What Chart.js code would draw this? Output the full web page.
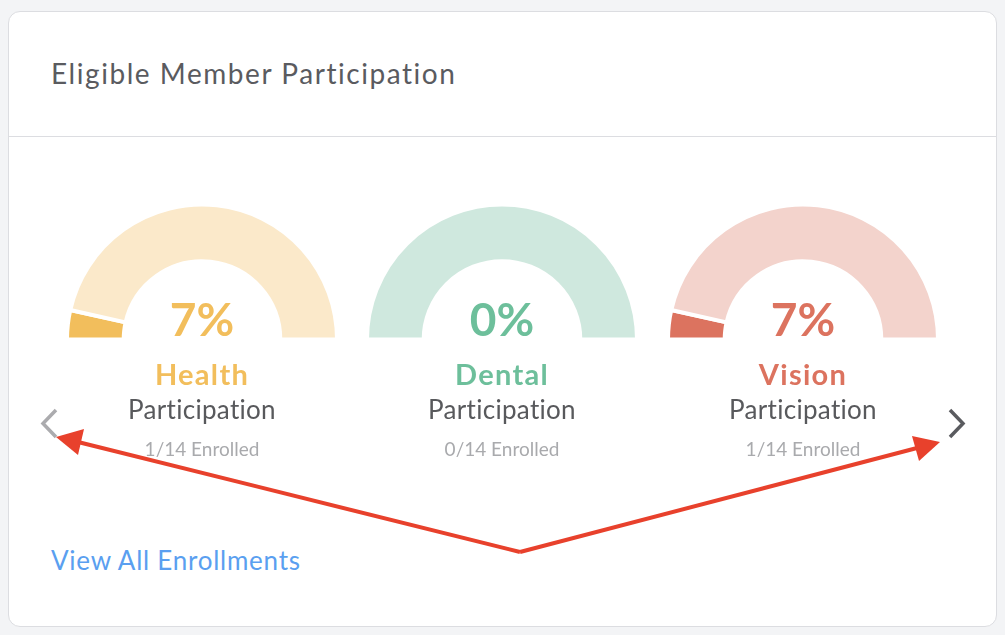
<!DOCTYPE html>
<html>
<head>
<meta charset="utf-8">
<script src="https://cdn.jsdelivr.net/npm/chart.js@4/dist/chart.umd.min.js"></script>
<style>
  html,body{margin:0;padding:0;}
  body{width:1005px;height:635px;background:#f3f4f6;position:relative;overflow:hidden;font-family:Lato,"Open Sans",sans-serif;}
  .card{position:absolute;left:8px;top:11px;width:987px;height:614px;background:#fff;border:1px solid #dcdde1;border-radius:12px;}
  .title{position:absolute;left:42px;top:44px;font-size:28px;color:#5a5b5f;white-space:nowrap;letter-spacing:1.55px;}
  .divider{position:absolute;left:0;right:0;top:124px;height:1px;background:#dcdde1;}
  .gauge{position:absolute;width:300px;height:300px;}
  .gauge canvas{position:absolute;left:13px;top:0;}
  .pct{position:absolute;left:0;width:300px;text-align:center;top:94px;font-size:46px;font-weight:700;line-height:46px;}
  .name{position:absolute;left:0;width:300px;text-align:center;top:157px;font-size:29px;font-weight:700;line-height:30px;letter-spacing:1.3px;}
  .part{position:absolute;left:0;width:300px;text-align:center;top:193px;font-size:26px;color:#58595c;line-height:28px;letter-spacing:0.3px;}
  .enr{position:absolute;left:0;width:300px;text-align:center;top:237px;font-size:19px;color:#a9aaad;line-height:20px;}
  .link{position:absolute;left:42px;top:532px;font-size:26px;color:#5a9ff0;white-space:nowrap;letter-spacing:0.75px;}
  svg{position:absolute;left:0;top:0;}
</style>
</head>
<body>
<div class="card">
  <div class="title">Eligible Member Participation</div>
  <div class="divider"></div>
  <div class="link">View All Enrollments</div>
</div>
<div id="gauges"></div>
<svg width="1005" height="635">
  <polyline points="56,410 43,423.5 56,437" fill="none" stroke="#ababae" stroke-width="3.5"/>
  <polyline points="950,410 963,423.5 950,437" fill="none" stroke="#5a5b5f" stroke-width="3.5"/>
  <line x1="520" y1="552" x2="78" y2="442" stroke="#e8412c" stroke-width="4"/>
  <line x1="520" y1="552" x2="917" y2="448" stroke="#e8412c" stroke-width="4"/>
  <polygon points="56,437 84,429 78,455" fill="#e8412c"/>
  <polygon points="940,442 912,436 919,461" fill="#e8412c"/>
</svg>
<script>
const categories = ['Health', 'Dental', 'Vision'];
const enrolled = [1, 0, 1];
const totals = [14, 14, 14];
const percents = [7, 0, 7];
const fillColors = ['#f2be5c', '#6dbf9b', '#dc735f'];
const trackColors = ['#fbe9ca', '#cfe8de', '#f3d3cc'];
const centersX = [202, 502, 803];

const host = document.getElementById('gauges');
categories.forEach((cat, i) => {
  const g = document.createElement('div');
  g.className = 'gauge';
  g.style.left = (centersX[i] - 150) + 'px';
  g.style.top = '202px';
  const cv = document.createElement('canvas');
  cv.width = 274; cv.height = 140;
  g.appendChild(cv);
  const pct = document.createElement('div');
  pct.className = 'pct'; pct.style.color = fillColors[i]; pct.textContent = percents[i] + '%';
  const nm = document.createElement('div');
  nm.className = 'name'; nm.style.color = fillColors[i]; nm.textContent = cat;
  const pt = document.createElement('div');
  pt.className = 'part'; pt.textContent = 'Participation';
  const en = document.createElement('div');
  en.className = 'enr'; en.textContent = enrolled[i] + '/' + totals[i] + ' Enrolled';
  g.appendChild(pct); g.appendChild(nm); g.appendChild(pt); g.appendChild(en);
  host.appendChild(g);
  new Chart(cv, {
    type: 'doughnut',
    data: {
      labels: ['Enrolled', 'Not enrolled'],
      datasets: [{
        data: [percents[i], 100 - percents[i]],
        backgroundColor: [fillColors[i], trackColors[i]],
        borderColor: '#ffffff',
        borderWidth: 4
      }]
    },
    options: {
      responsive: false,
      animation: false,
      rotation: -90,
      circumference: 180,
      cutout: '58%',
      layout: { padding: 0 },
      plugins: { legend: { display: false }, tooltip: { enabled: false } }
    }
  });
});
</script>
</body>
</html>
